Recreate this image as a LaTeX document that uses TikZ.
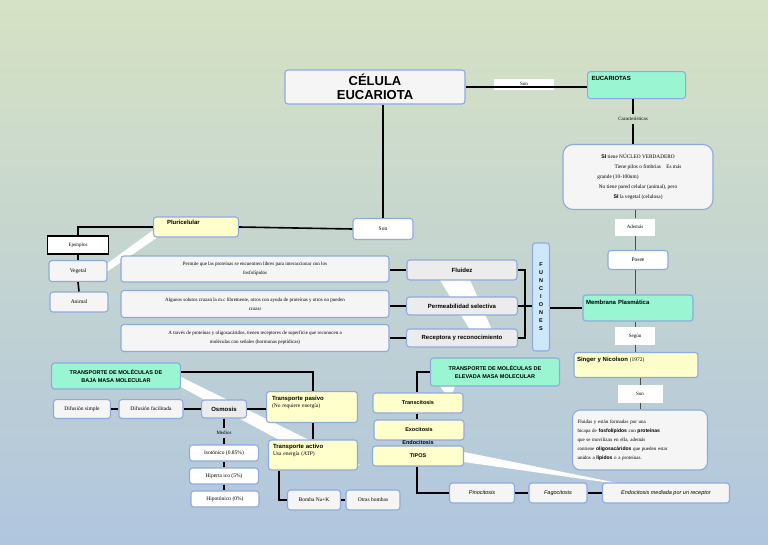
\documentclass[tikz,border=0pt]{standalone}
\usepackage{fontspec}
\setmainfont{Liberation Serif}
\newfontfamily\sa{Liberation Sans}
\begin{document}
\begin{tikzpicture}[x=1pt,y=-1pt,
 bx/.style={draw=cyan!45!blue!45,line width=1.1pt,rounded corners=3pt,fill=#1,inner sep=1pt,align=center,font=\fontsize{5.5}{7}\selectfont},
 bx/.default={gray!8},
 lb/.style={fill=white,inner sep=1pt,font=\fontsize{5}{6}\selectfont},
 ln/.style={line width=1.6pt},
 tn/.style={line width=0.8pt,black!70}]
\definecolor{mint}{HTML}{9AF6D2}\definecolor{yel}{HTML}{FFFFCC}\definecolor{lblue}{HTML}{CDE8FA}
\useasboundingbox (0,0) rectangle (768,544);
\shade[top color={rgb,255:red,214;green,226;blue,196},bottom color={rgb,255:red,176;green,198;blue,222}] (0,0) rectangle (768,544);
% white wedges
\fill[white] (156,228) -- (158,237) -- (92,282) -- (82,282) -- cycle;
\fill[white] (440,280) -- (470,280) -- (492,330) -- (470,330) -- cycle;
\fill[white] (181,377) -- (181,387) -- (335,470) -- (360,465) -- cycle;
\fill[white] (440,386) -- (455,386) -- (450,400) -- cycle;
\fill[white] (464,452) -- (464,462) -- (632,486) -- cycle;
\fill[white] (435,420) -- (440,420) -- (438,442) -- cycle;
% nodes
\node[bx,minimum width=180,minimum height=34,font=\sa\bfseries\fontsize{13}{14}\selectfont] (cel) at (375,87) {CÉLULA\\EUCARIOTA};
\node[bx=mint,minimum width=98,minimum height=27,font=\sa\bfseries\fontsize{6}{7}\selectfont,anchor=north west,text width=90,align=left] (euc) at (587,71) {EUCARIOTAS\\[7pt]\mbox{}};
\node[font=\fontsize{5}{6}\selectfont] (car) at (633,119) {Características};
\node[bx,rounded corners=10pt,minimum width=150,minimum height=65,font=\fontsize{5.3}{10}\selectfont] (chr) at (638,177) {{\sa\bfseries SI} tiene NÚCLEO VERDADERO\\\hspace{20pt}Tiene pilos o fimbrias\quad Es más\\\hspace{-40pt}grande (10-100um)\\No tiene pared celular (animal), pero\\{\sa\bfseries SI} la vegetal (celulosa)};
\node[lb,minimum width=40,minimum height=17] (ade) at (635,227) {Además};
\node[bx=white,minimum width=60,minimum height=19] (pos) at (638,260) {Posee};
\node[bx=mint,minimum width=110,minimum height=26,font=\sa\bfseries\fontsize{6}{7}\selectfont,text width=104,align=left] (mem) at (638,308) {Membrana Plasmática\\[5pt]\mbox{}};
\node[lb,minimum width=40,minimum height=18] (seg) at (635,336) {Según};
\node[bx=yel,minimum width=124,minimum height=25,text width=118,align=left] (sin) at (636,365) {{\sa\bfseries\fontsize{6}{7}\selectfont Singer y Nicolson} (1972)\\[5pt]\mbox{}};
\node[lb,minimum width=45,minimum height=18] (son3) at (640,394) {Son};
\node[bx,rounded corners=8pt,minimum width=135,minimum height=60,text width=125,align=left,font=\fontsize{5}{9}\selectfont] (flu) at (640,440) {Fluidas y están formadas por una\\bicapa de {\sa\bfseries fosfolípidos} con {\sa\bfseries proteínas}\\que se movilizan en ella, además\\contiene {\sa\bfseries oligosacáridos} que pueden estar\\unidos a {\sa\bfseries lípidos} o a proteínas.};
\node[lb,minimum width=60,minimum height=11] (son1) at (524,84) {Son};
\node[bx=lblue,minimum width=17,minimum height=108,font=\sa\bfseries\fontsize{5.5}{8}\selectfont] (fun) at (541,297) {F\\U\\N\\C\\I\\O\\N\\E\\S};
\node[bx={gray!15},minimum width=110,minimum height=20,font=\sa\bfseries\fontsize{6}{7}\selectfont] (fl) at (462,270) {Fluidez};
\node[bx={gray!15},minimum width=111,minimum height=18,font=\sa\bfseries\fontsize{6}{7}\selectfont] (pe) at (462,306) {Permeabilidad selectiva};
\node[bx={gray!15},minimum width=111,minimum height=18,font=\sa\bfseries\fontsize{6}{7}\selectfont] (re) at (462,338) {Receptora y reconocimiento};
\node[bx,minimum width=268,minimum height=26,font=\fontsize{5}{9}\selectfont] (d1) at (255,269) {Permite que las proteínas se encuentren libres para interaccionar con los\\fosfolípidos};
\node[bx,minimum width=268,minimum height=27,font=\fontsize{5}{9}\selectfont] (d2) at (255,304) {Algunos solutos cruzan la m.c libremente, otros con ayuda de proteínas y otros no pueden\\cruzar};
\node[bx,minimum width=268,minimum height=27,font=\fontsize{5}{9}\selectfont] (d3) at (255,338) {A través de proteínas y oligosacáridos, tienen receptores de superficie que reconocen a\\moléculas con señales (hormonas peptídicas)};
\node[bx=white,minimum width=60,minimum height=21] (son2) at (383,229) {Son};
\node[bx=yel,minimum width=85,minimum height=20,font=\sa\bfseries\fontsize{6}{7}\selectfont,text width=78,align=left] (plu) at (196,227) {\hspace{10pt}Pluricelular\\[3pt]\mbox{}};
\node[draw=black,line width=1.5pt,fill=white,minimum width=61,minimum height=18,inner sep=1pt,font=\fontsize{5}{6}\selectfont] (eje) at (78,245) {Ejemplos};
\node[bx,minimum width=58,minimum height=21] (veg) at (78,271) {Vegetal};
\node[bx,minimum width=58,minimum height=20] (ani) at (79,302) {Animal};
\node[bx=mint,minimum width=129,minimum height=26,font=\sa\bfseries\fontsize{5.5}{8}\selectfont] (baj) at (116,376) {TRANSPORTE DE MOLÉCULAS DE\\BAJA MASA MOLECULAR};
\node[bx,minimum width=57,minimum height=19] (ds) at (82,409) {Difusión simple};
\node[bx,minimum width=64,minimum height=19] (df) at (151,409) {Difusión facilitada};
\node[bx={gray!15},minimum width=45,minimum height=18,font=\sa\bfseries\fontsize{6}{7}\selectfont] (osm) at (224,409) {Osmosis};
\node[font=\fontsize{5}{6}\selectfont,fill=none] (med) at (224,433) {Medios};
\node[bx=white,minimum width=69,minimum height=16] (iso) at (224,453) {Isotónico (0.85\%)};
\node[bx=white,minimum width=69,minimum height=16] (hpr) at (224,476) {Hiperta ico (5\%)};
\node[bx=white,minimum width=68,minimum height=16] (hpo) at (225,499) {Hipotónico (0\%)};
\node[bx=yel,minimum width=91,minimum height=31,text width=80,align=left] (pas) at (312,407) {{\sa\bfseries\fontsize{6}{7}\selectfont Transporte pasivo}\\(No requiere energía)\\[4pt]\mbox{}};
\node[bx=yel,minimum width=89,minimum height=30,text width=80,align=left] (act) at (313,455) {{\sa\bfseries\fontsize{6}{7}\selectfont Transporte activo}\\Usa energía (ATP)\\[4pt]\mbox{}};
\node[bx,minimum width=53,minimum height=20] (bom) at (314,500) {Bomba Na+K};
\node[bx,minimum width=54,minimum height=20] (otr) at (373,500) {Otras bombas};
\node[bx=mint,minimum width=129,minimum height=28,font=\sa\bfseries\fontsize{5.5}{8}\selectfont] (ele) at (495,372) {TRANSPORTE DE MOLÉCULAS DE\\ELEVADA MASA MOLECULAR};
\node[bx=yel,minimum width=90,minimum height=20,font=\sa\bfseries\fontsize{5.5}{7}\selectfont] (tra) at (418,403) {Transcitosis};
\node[bx=yel,minimum width=90,minimum height=20,font=\sa\bfseries\fontsize{5.5}{7}\selectfont] (exo) at (419,430) {Exocitosis};
\node[bx=yel,minimum width=91,minimum height=20,font=\sa\bfseries\fontsize{5.5}{7}\selectfont] (tip) at (418,456) {TIPOS};
\node[font=\sa\bfseries\fontsize{5.5}{7}\selectfont,inner sep=0] (end) at (418,443) {Endocitosis};
\node[bx,minimum width=65,minimum height=20,font=\sa\itshape\fontsize{5.5}{7}\selectfont] (pin) at (482,493) {Pinocitosis};
\node[bx,minimum width=58,minimum height=20,font=\sa\itshape\fontsize{5.5}{7}\selectfont] (fag) at (558,493) {Fagocitosis};
\node[bx,minimum width=127,minimum height=20,font=\sa\itshape\fontsize{5.5}{7}\selectfont] (emr) at (666,493) {Endocitosis mediada por un receptor};
% connectors
\draw[ln] (cel.east) -- (euc.west|-cel.east);
\draw[ln] (cel.south -| son2.north) -- (son2.north);
\draw[ln] (son2.west) -- (plu.east);
\draw[ln] (plu.west) -- (eje.north|-plu.west) -- (eje.north);
\draw[ln] (eje.south) -- (veg.north); \draw[ln] (veg.south) -- (ani.north);
\draw[ln] (euc.south-|car) -- (car.north); \draw[ln] (car.south) -- (chr.north-|car);
\draw[tn] (chr.south-|ade) -- (ade.north); \draw[tn] (ade.south) -- (pos.north-|ade);
\draw[tn] (pos.south-|ade) -- (mem.north-|ade); \draw[tn] (mem.south-|seg) -- (seg.north);
\draw[tn] (seg.south) -- (sin.north-|seg); \draw[tn] (sin.south-|son3) -- (son3.north); \draw[tn] (son3.south) -- (flu.north-|son3);
\draw[ln] (mem.west) -- (fun.east|-mem.west);
\draw[ln] (fl.east) -- (525,270) -- (525,338) -- (re.east);
\draw[ln] (pe.east) -- (fun.west|-pe.east);
\draw[ln] (d1.east|-fl.west) -- (fl.west); \draw[ln] (d2.east|-pe.west) -- (pe.west); \draw[ln] (d3.east) -- (re.west);
\draw[ln] (baj.east|-0,372) -- (313,372) -- (pas.north-|313,0);
\draw[ln] (pas.south-|313,0) -- (act.north-|313,0);
\draw[ln] (ds.east) -- (df.west); \draw[ln] (df.east) -- (osm.west); \draw[ln] (osm.east) -- (pas.west|-osm.east);
\draw[ln] (osm.south) -- (med.north); \draw[ln] (med.south) -- (iso.north-|med);
\draw[ln] (iso.south) -- (hpr.north-|iso); \draw[ln] (hpr.south-|iso) -- (hpo.north-|iso);
\draw[ln] (act.south-|279,0) -- (279,500) -- (bom.west);
\draw[ln] (bom.east) -- (otr.west);
\draw[ln] (ele.west) -- (417,372) -- (tra.north-|417,0);
\draw[ln] (tra.south-|417,0) -- (exo.north-|417,0);
\draw[ln] (tip.south-|417,0) -- (417,493) -- (pin.west);
\draw[ln] (pin.east) -- (fag.west); \draw[ln] (fag.east) -- (emr.west);
\end{tikzpicture}
\end{document}
